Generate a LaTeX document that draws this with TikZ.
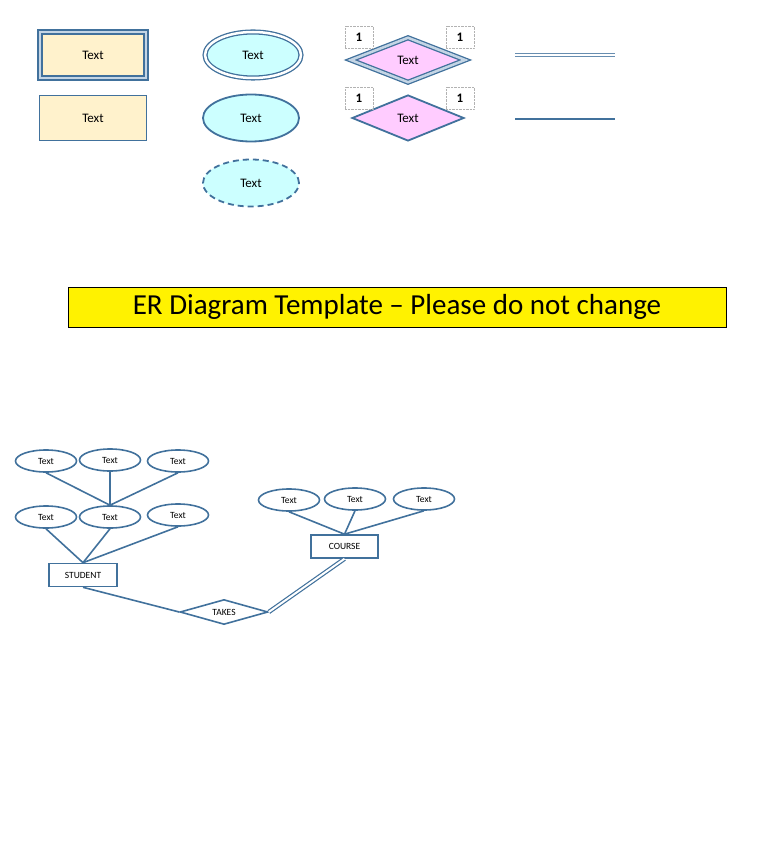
\documentclass[tikz,border=0pt]{standalone}
\usepackage{fontspec}
\setmainfont{Carlito}
\usetikzlibrary{shapes.geometric}
\definecolor{erline}{HTML}{41719C}
\definecolor{erlight}{HTML}{9DB9D3}
\definecolor{entfill}{HTML}{FFF2CC}
\definecolor{attfill}{HTML}{CCFFFF}
\definecolor{relfill}{HTML}{FFCCFF}
\tikzset{
	entity/.style={draw=erline,line width=1.8pt,fill=entfill,minimum width=107pt,minimum height=45pt,font=\fontsize{13}{15}\selectfont},
	attrib/.style={ellipse,draw=erline,line width=1.8pt,fill=attfill,minimum width=96pt,minimum height=47pt,inner sep=0pt,font=\fontsize{13}{15}\selectfont},
	relation/.style={diamond,draw=erline,line width=1.8pt,fill=relfill,aspect=2.4,minimum width=112pt,minimum height=46pt,inner sep=0pt,font=\fontsize{13}{15}\selectfont},
	card/.style={draw=gray!60,densely dotted,minimum width=28pt,minimum height=22pt,inner sep=0pt,font=\bfseries\fontsize{13}{15}\selectfont},
	twin/.style={double=erlight!60,double distance=2.5pt,line width=1.3pt},
	doubleline/.style={draw=erline,double=white,double distance=2pt,line width=1.2pt},
	smallatt/.style={ellipse,draw=erline,line width=1.6pt,minimum width=61pt,minimum height=22pt,inner sep=0pt,font=\fontsize{9.5}{11}\selectfont},
	smallent/.style={draw=erline,line width=1.6pt,minimum height=23pt,inner sep=0pt,font=\fontsize{9.5}{11}\selectfont},
	link/.style={draw=erline,line width=1.6pt}
}
\begin{document}
\begin{tikzpicture}[x=1pt,y=-1pt]
		\useasboundingbox (0,0) rectangle (768,866);
		% legend
		\node[entity,twin,minimum width=106pt,minimum height=46pt] at (93,55) (weak-entity) {Text};
		\node[entity] at (93,118) (strong-entity) {Text};
		\node[attrib,twin,double=white,minimum width=96pt,minimum height=46pt] at (253,55) (multi-attr) {Text};
		\node[attrib] at (251,118) (plain-attr) {Text};
		\node[attrib,dash pattern=on 6pt off 4pt] at (251,183) (derived-attr) {Text};
		\node[relation,twin,minimum width=115pt,minimum height=45pt] at (408,60) (ident-rel) {Text};
		\node[relation] at (408,118) (plain-rel) {Text};
		\node[card] at (359,37) (card-a) {1};
		\node[card] at (460,37) (card-b) {1};
		\node[card] at (359,98) (card-c) {1};
		\node[card] at (460,98) (card-d) {1};
		\coordinate (total-a) at (515,55);
		\coordinate (total-b) at (615,55);
		\coordinate (partial-a) at (515,119);
		\coordinate (partial-b) at (615,119);
		\draw[doubleline,draw=erline!80] (total-a) -- (total-b);
		\draw[link,line width=1.8pt] (partial-a) -- (partial-b);

		% banner
		\node[draw=black,fill=yellow,minimum width=658pt,minimum height=40pt,font=\fontsize{29}{33}\selectfont] at (397,307) (banner)
			{ER Diagram Template – Please do not change};

		% example
		\node[smallatt] at (46,461) (st-a1) {Text};
		\node[smallatt] at (110,460) (st-a2) {Text};
		\node[smallatt] at (178,461) (st-a3) {Text};
		\node[smallatt] at (46,517) (st-b1) {Text};
		\node[smallatt] at (110,517) (st-b2) {Text};
		\node[smallatt] at (178,515) (st-b3) {Text};
		\node[smallatt] at (289,500) (co-a1) {Text};
		\node[smallatt] at (355,499) (co-a2) {Text};
		\node[smallatt] at (424,499) (co-a3) {Text};
		\node[smallent,minimum width=68pt] at (83,575) (student) {STUDENT};
		\node[smallent,minimum width=67pt] at (344.5,546.5) (course) {COURSE};
		\node[diamond,draw=erline,line width=1.6pt,aspect=3.5,minimum width=88pt,minimum height=25pt,inner sep=0pt,font=\fontsize{9.5}{11}\selectfont] at (224,612) (takes) {TAKES};

		\draw[link] (st-a1.south) -- (st-b2.north);
		\draw[link] (st-a2.south) -- (st-b2.north);
		\draw[link] (st-a3.south) -- (st-b2.north);
		\draw[link] (st-b1.south) -- (student.north);
		\draw[link] (st-b2.south) -- (student.north);
		\draw[link] (st-b3.south) -- (student.north);
		\draw[link] (co-a1.south) -- (course.north);
		\draw[link] (co-a2.south) -- (course.north);
		\draw[link] (co-a3.south) -- (course.north);
		\draw[link] (student.south) -- (takes.west);
		\draw[doubleline] (takes.east) -- (course.south);
	\end{tikzpicture}
\end{document}
